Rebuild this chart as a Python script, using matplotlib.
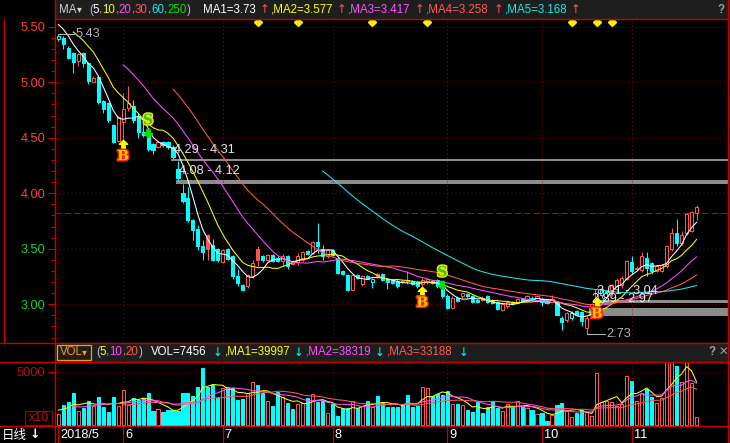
import numpy as np
import pandas as pd
import matplotlib
matplotlib.use("Agg")
import matplotlib.pyplot as plt
from matplotlib.path import Path
from matplotlib.patches import Rectangle
import matplotlib.patheffects as pe

plt.rcParams['font.family'] = ['Liberation Sans', 'DejaVu Sans', 'Noto Sans CJK SC']

# daily bars, mid May .. mid Nov 2018 (129 sessions)
opens = [5.39, 5.40, 5.31, 5.26, 5.19, 5.26, 5.17, 5.00, 5.05, 4.83,
         4.81, 4.61, 4.47, 4.64, 4.765, 4.79, 4.70, 4.55, 4.54, 4.44,
         4.42, 4.46, 4.46, 4.42, 4.22, 4.00, 3.96, 3.76, 3.68, 3.52,
         3.62, 3.53, 3.50, 3.38, 3.50, 3.43, 3.25, 3.17, 3.16, 3.25,
         3.50, 3.43, 3.40, 3.44, 3.42, 3.39, 3.43, 3.39, 3.38, 3.40,
         3.48, 3.46, 3.56, 3.50, 3.43, 3.49, 3.42, 3.30, 3.26, 3.13,
         3.26, 3.18, 3.25, 3.20, 3.27, 3.27, 3.23, 3.22, 3.21, 3.21,
         3.22, 3.21, 3.20, 3.18, 3.20, 3.21, 3.22, 3.14, 3.07, 2.97,
         3.06, 3.07, 3.09, 3.07, 3.04, 3.06, 3.07, 3.04, 3.02, 2.95,
         2.98, 3.02, 3.01, 3.05, 3.03, 3.06, 3.03, 3.05, 3.04, 3.02,
         3.02, 2.88, 2.86, 2.88, 2.94, 2.93, 2.79, 2.98, 3.05, 3.08,
         3.11, 3.13, 3.14, 3.17, 3.23, 3.38, 3.32, 3.31, 3.42, 3.37,
         3.30, 3.30, 3.34, 3.50, 3.64, 3.55, 3.64, 3.66, 3.82]
highs = [5.43, 5.42, 5.33, 5.27, 5.26, 5.27, 5.18, 5.06, 5.06, 4.84,
         4.82, 4.62, 4.70, 4.90, 4.97, 4.84, 4.72, 4.64, 4.56, 4.45,
         4.47, 4.47, 4.47, 4.43, 4.29, 4.08, 4.06, 3.77, 3.71, 3.58,
         3.63, 3.59, 3.51, 3.50, 3.51, 3.44, 3.32, 3.18, 3.27, 3.40,
         3.52, 3.44, 3.45, 3.45, 3.43, 3.45, 3.44, 3.40, 3.46, 3.48,
         3.49, 3.57, 3.73, 3.53, 3.50, 3.50, 3.43, 3.31, 3.27, 3.27,
         3.27, 3.26, 3.26, 3.24, 3.28, 3.28, 3.24, 3.23, 3.23, 3.22,
         3.30, 3.22, 3.21, 3.24, 3.24, 3.22, 3.23, 3.19, 3.09, 3.07,
         3.07, 3.11, 3.10, 3.08, 3.05, 3.07, 3.08, 3.05, 3.03, 3.02,
         3.03, 3.03, 3.06, 3.06, 3.08, 3.07, 3.08, 3.06, 3.05, 3.08,
         3.03, 2.89, 2.93, 2.94, 2.95, 2.94, 2.89, 3.01, 3.15, 3.16,
         3.13, 3.18, 3.24, 3.25, 3.40, 3.43, 3.34, 3.47, 3.47, 3.38,
         3.35, 3.36, 3.53, 3.69, 3.77, 3.66, 3.82, 3.84, 3.89]
lows = [5.37, 5.30, 5.21, 5.08, 5.15, 5.14, 4.98, 4.99, 4.80, 4.72,
        4.64, 4.45, 4.46, 4.46, 4.74, 4.63, 4.50, 4.51, 4.38, 4.35,
        4.41, 4.42, 4.40, 4.31, 4.12, 3.91, 3.74, 3.58, 3.49, 3.40,
        3.40, 3.39, 3.38, 3.37, 3.40, 3.23, 3.16, 3.12, 3.15, 3.24,
        3.34, 3.38, 3.39, 3.38, 3.38, 3.34, 3.32, 3.35, 3.35, 3.39,
        3.44, 3.45, 3.46, 3.40, 3.42, 3.43, 3.27, 3.26, 3.12, 3.12,
        3.23, 3.16, 3.23, 3.15, 3.24, 3.21, 3.14, 3.18, 3.15, 3.19,
        3.18, 3.17, 3.15, 3.14, 3.18, 3.18, 3.15, 3.06, 2.96, 2.96,
        3.02, 3.06, 3.06, 3.01, 3.01, 3.03, 3.01, 3.00, 2.95, 2.94,
        2.97, 2.99, 3.00, 3.02, 3.02, 3.03, 3.02, 2.98, 3.00, 3.02,
        2.90, 2.77, 2.84, 2.86, 2.89, 2.80, 2.73, 2.97, 3.04, 3.06,
        3.08, 3.07, 3.12, 3.15, 3.22, 3.27, 3.30, 3.29, 3.25, 3.27,
        3.29, 3.29, 3.33, 3.48, 3.52, 3.53, 3.62, 3.65, 3.76]
closes = [5.42, 5.34, 5.22, 5.185, 5.25, 5.17, 5.01, 5.04, 4.82, 4.76,
          4.66, 4.46, 4.69, 4.76, 4.81, 4.66, 4.55, 4.52, 4.40, 4.39,
          4.46, 4.43, 4.42, 4.33, 4.14, 3.93, 3.76, 3.67, 3.52, 3.47,
          3.50, 3.40, 3.40, 3.49, 3.41, 3.25, 3.19, 3.13, 3.26, 3.37,
          3.40, 3.40, 3.44, 3.39, 3.39, 3.43, 3.34, 3.36, 3.43, 3.47,
          3.45, 3.56, 3.52, 3.43, 3.49, 3.44, 3.28, 3.27, 3.13, 3.26,
          3.24, 3.25, 3.23, 3.23, 3.25, 3.22, 3.20, 3.19, 3.16, 3.20,
          3.21, 3.18, 3.16, 3.22, 3.23, 3.19, 3.16, 3.07, 2.97, 3.06,
          3.03, 3.10, 3.07, 3.02, 3.02, 3.04, 3.02, 3.01, 2.96, 3.00,
          3.02, 3.00, 3.05, 3.03, 3.07, 3.04, 3.07, 3.02, 3.01, 3.05,
          2.90, 2.84, 2.92, 2.92, 2.90, 2.85, 2.88, 3.00, 3.14, 3.14,
          3.12, 3.17, 3.22, 3.24, 3.39, 3.30, 3.33, 3.43, 3.33, 3.30,
          3.34, 3.35, 3.52, 3.64, 3.55, 3.62, 3.81, 3.83, 3.88]
# volume in units of 10 (axis shows "x10")
volumes = [1030, 1880, 2190, 3035, 1310, 1565, 2250, 1780, 2660, 1720,
           1250, 2660, 1780, 3285, 1880, 2570, 2350, 2500, 2970, 1345,
           1470, 1250, 1410, 1410, 1345, 2970, 2970, 2720, 3600, 5320,
           3600, 3750, 2500, 3440, 3535, 3440, 2350, 2410, 2970, 4000,
           3750, 2970, 2280, 1780, 3130, 2660, 2030, 1500, 1970, 2030,
           2500, 2910, 2190, 2280, 1160, 1970, 840, 1565, 1565, 2250,
           1565, 1800, 2250, 1720, 2720, 2100, 1720, 1660, 1660, 1970,
           2815, 1720, 1780, 3535, 3500, 2720, 2910, 2815, 3190, 1970,
           1970, 1880, 1410, 1250, 2190, 1095, 1660, 2250, 1565, 1310,
           1970, 1660, 2250, 1720, 1565, 1410, 1030, 1160, 400, 940,
           1880, 2100, 1345, 780, 1160, 1410, 1250, 845, 4910, 2190,
           2280, 2190, 1780, 1970, 4600, 4160, 2280, 2970, 3350, 2600,
           2100, 2500, 5940, 5910, 5535, 4065, 5940, 3910, 745]
# six sessions left of the window, only feed the moving averages
pre_closes = [5.60, 5.58, 5.55, 5.52, 5.56, 5.55]
pre_volumes = [2000, 1500, 1500, 1400, 1500, 1570]

month_start = [0, 13, 33, 55, 78, 97, 115]
month_labels = ['2018/5', '6', '7', '8', '9', '10', '11']
buy_idx = [13, 73, 108]
sell_idx = [18, 77]
flag_idx = [40, 48, 63, 74, 103, 108, 111]
# unfilled gaps: (where the band starts, low, high)
gaps = [(22.7, 4.29, 4.31), (23.7, 4.08, 4.12), (107.5, 3.01, 3.04), (106.5, 2.89, 2.97)]
last_price = 3.82

ma_windows = [5, 10, 20, 30, 60, 250]
ma_colors = ['#ffffff', '#ffff00', '#ff50ff', '#ff5a5a', '#1ee6e6', '#00e000']
ma_values = ['3.73', '3.577', '3.417', '3.258', '3.168']
vol_windows = [5, 10, 20]
vol_colors = ['#ffff00', '#ff50ff', '#ff5a5a']
vol_values = ['7456', '39997', '38319', '33188']

RED = '#ff5454'
CYAN = '#00ffff'
GRID = '#9a0000'
BORDER = '#c80000'

W, H = 730, 443
fig = plt.figure(figsize=(7.3, 4.43), dpi=100, facecolor='black')


def box(x0, y0, x1, y1):
    return [x0 / W, 1 - y1 / H, (x1 - x0) / W, (y1 - y0) / H]


ax = fig.add_axes(box(55, 19, 728, 342))
axv = fig.add_axes(box(55, 362, 728, 426))
axd = fig.add_axes(box(55, 426, 728, 443))
ov = fig.add_axes([0, 0, 1, 1])
ov.set_xlim(0, W)
ov.set_ylim(H, 0)
ov.axis('off')

xlim = (-0.66, 134.3)
ylim = (2.6595, 5.5694)
for a in (ax, axv, axd):
    a.set_facecolor('black')
    a.set_xlim(*xlim)
    for s in a.spines.values():
        s.set_visible(False)
    a.tick_params(axis='x', bottom=False, labelbottom=False)

o = np.array(opens)
h = np.array(highs)
l = np.array(lows)
c = np.array(closes)
v = np.array(volumes, dtype=float)
n = len(c)
x = np.arange(n)

# ---- price panel
ax.set_ylim(*ylim)
yt = [3.0, 3.5, 4.0, 4.5, 5.0, 5.5]
ax.set_yticks(yt)
ax.set_yticklabels([f'{t:.2f}' for t in yt])
ax.set_yticks(np.arange(2.7, 5.55, 0.1), minor=True)
ax.tick_params(axis='y', which='major', length=5, width=0.75, color=BORDER,
               labelsize=9.2, pad=2)
ax.tick_params(axis='y', which='minor', length=2.6, width=0.75, color=BORDER)
for lab, t in zip(ax.get_yticklabels(), yt):
    lab.set_color('#ff4040' if t >= last_price else '#10d040')

ax.hlines(yt, xlim[0], xlim[1], colors=GRID, linestyles=(0, (1, 3)), lw=0.72)
ax.vlines(month_start, ylim[0], ylim[1], colors=GRID, linestyles=(0, (1, 3)), lw=0.72)
ax.axhline(last_price, color='#d00000', lw=0.75, ls=(0, (6, 3)))

for x0, lo, hi in gaps:
    ax.fill_between([x0, xlim[1]], lo, hi, color='#8c8c8c', lw=0, zorder=1)

prev = np.r_[pre_closes[-1], c[:-1]]
edge = np.where(c > prev, RED, CYAN)
hollow = c > o
face = np.where(hollow, 'black', edge)
top = np.maximum(o, c)
bot = np.minimum(o, c)
ax.vlines(x, top, h, colors=edge, lw=0.75, zorder=3)
ax.vlines(x, l, bot, colors=edge, lw=0.75, zorder=3)
ax.bar(x, np.maximum(top - bot, 0.006), bottom=bot, width=0.62, color=face,
       edgecolor=edge, linewidth=0.75, zorder=3)

full_c = pd.Series(pre_closes + closes)
k = len(pre_closes)
for win, col in zip(ma_windows[:5], ma_colors[:5]):
    ma = full_c.rolling(win).mean().to_numpy()[k:]
    ax.plot(x, ma, color=col, lw=0.75, zorder=4)

ppx = (ylim[1] - ylim[0]) / 323.0
up_arrow = Path([(0, 1), (-1, 0.05), (-0.4, 0.05), (-0.4, -1), (0.4, -1), (0.4, 0.05), (1, 0.05), (0, 1)])
down_arrow = Path([(0, -1), (-1, -0.05), (-0.4, -0.05), (-0.4, 1), (0.4, 1), (0.4, -0.05), (1, -0.05), (0, -1)])
for i in buy_idx:
    ax.plot(i, l[i] - 2 * ppx, marker=up_arrow, ms=6, color='#ffff00', mec='#ffff00', zorder=6)
    ax.text(i, l[i] - 14 * ppx, 'B', color='#ffd000', fontsize=10, fontweight='bold',
            family='DejaVu Serif', ha='center', va='center', zorder=6,
            path_effects=[pe.withStroke(linewidth=2.2, foreground='#ff2000')])
for i in sell_idx:
    ax.plot(i, h[i] - 2 * ppx, marker=down_arrow, ms=6, color='#00e000', mec='#00e000', zorder=6)
    ax.text(i, h[i] + 11 * ppx, 'S', color='#30c030', fontsize=10, fontweight='bold',
            family='DejaVu Serif', ha='center', va='center', zorder=6,
            path_effects=[pe.withStroke(linewidth=2.2, foreground='#e8e800')])
ax.plot(flag_idx, [0.99] * len(flag_idx), ls='none', marker='D', ms=4.5, color='#ffee00',
        mec='#ffee00', transform=ax.get_xaxis_transform(), clip_on=False, zorder=6)

for x0, lo, hi in gaps:
    ax.annotate(f'{lo:.2f} - {hi:.2f}', (x0, hi), xytext=(3, 9), textcoords='offset pixels',
                color='#e6e6e6', fontsize=9.2, va='center', ha='left', zorder=7)

imax = int(np.argmax(h))
imin = int(np.argmin(l))
ax.plot([imax, imax + 3.2], [h[imax], h[imax]], color='#b4b4b4', lw=0.8, zorder=5)
ax.text(imax + 3.4, h[imax], f'{h[imax]:.2f}', color='#b4b4b4', fontsize=9.2, va='center', zorder=7)
ax.plot([imin, imin + 3.7], [l[imin], l[imin]], color='#b4b4b4', lw=0.8, zorder=5)
ax.text(imin + 3.9, l[imin], f'{l[imin]:.2f}', color='#b4b4b4', fontsize=9.2, va='center', zorder=7)

# ---- volume panel
vylim = (-94, 5909)
axv.set_ylim(*vylim)
axv.set_yticks([5000])
axv.set_yticklabels(['5000'])
axv.tick_params(axis='y', length=5, width=0.75, color=BORDER, labelsize=9.2,
                labelcolor='#b01010', pad=2)
axv.hlines([5000], xlim[0], xlim[1], colors=GRID, linestyles=(0, (1, 3)), lw=0.72)
axv.vlines(month_start, vylim[0], vylim[1], colors=GRID, linestyles=(0, (1, 3)), lw=0.72)
vup = c > o
axv.bar(x, v, width=0.62, color=np.where(vup, 'black', CYAN),
        edgecolor=np.where(vup, RED, CYAN), linewidth=0.75, zorder=3)
full_v = pd.Series(pre_volumes + volumes, dtype=float)
for win, col in zip(vol_windows, vol_colors):
    ma = full_v.rolling(win).mean().to_numpy()[k:]
    axv.plot(x, ma, color=col, lw=0.75, zorder=4)

# ---- date bar
axd.set_ylim(0, 1)
axd.set_yticks([])
axd.vlines(month_start, 0, 1, colors=BORDER, lw=0.9)
for i, lab in zip(month_start, month_labels):
    axd.annotate(lab, (i, 0.45), xytext=(2, 0), textcoords='offset pixels',
                 color='white', fontsize=9.2, va='center', ha='left')

# ---- headers and frame
ov.add_patch(Rectangle((55, 0), 673, 19, color='#1e1e1e', zorder=0))
ov.add_patch(Rectangle((55, 343), 673, 18.5, color='#1e1e1e', zorder=0))
ov.plot([55, 55], [0, H], color=BORDER, lw=1)
ov.plot([728, 728], [0, H], color=BORDER, lw=1)
ov.plot([4, 4], [19, 342], color=BORDER, lw=1)
ov.plot([55, 728], [19, 19], color=BORDER, lw=1)
ov.plot([0, 728], [342.5, 342.5], color=BORDER, lw=1)
ov.plot([0, 728], [361.5, 361.5], color=BORDER, lw=1)
ov.plot([0, 728], [426, 426], color=BORDER, lw=1)

r = fig.canvas.get_renderer()


def chain(x0, y0, parts, size=8.3):
    for s, col in parts:
        t = ov.text(x0, y0, s, color=col, fontsize=size, va='center', ha='left')
        x0 += t.get_window_extent(renderer=r).width
    return x0


HS = 8.3
ov.text(59, 9.5, 'MA', color='#d0d0d0', fontsize=HS, va='center')
ov.text(77, 9.5, '▾', color='#d0d0d0', fontsize=7, va='center', family='DejaVu Sans')
par = '#b4b4e6'
parts = [('(', par)]
for j, (win, col) in enumerate(zip(ma_windows, ma_colors)):
    parts.append((str(win), col))
    parts.append((',' if j < 5 else ')', par))
chain(89, 9.5, parts)
ma_x = [203, 271, 348, 426, 505]
ar_x = [260, 337, 415, 494, 571]
for j, (val, xx, axx) in enumerate(zip(ma_values, ma_x, ar_x)):
    pre = '' if j == 0 else ','
    ov.text(xx, 9.5, f'{pre}MA{j + 1}={val}', color=ma_colors[j], fontsize=HS, va='center')
    ov.text(axx, 9.5, '↑', color=RED, fontsize=HS, va='center', family='DejaVu Sans')
ov.text(717, 9.5, '?', color='#a0a0a0', fontsize=HS, va='center', fontweight='bold')

vy = 352
ov.add_patch(Rectangle((57, 344.5), 34, 15, fill=False, ec='#ff9a00', lw=0.9))
ov.text(60, vy, 'VOL', color='#ff9a00', fontsize=HS, va='center')
ov.text(82, vy, '▾', color='#ff9a00', fontsize=7, va='center', family='DejaVu Sans')
vparts = [('(', par)]
for j, (win, col) in enumerate(zip(vol_windows, vol_colors)):
    vparts.append((str(win), col))
    vparts.append((',' if j < 2 else ')', par))
chain(96, vy, vparts)
vtxt = [f'VOL={vol_values[0]}'] + [f',MA{j + 1}={vol_values[j + 1]}' for j in range(3)]
vcol = ['#ffffff'] + vol_colors
vx = [151, 225, 306, 387]
vax = [213, 294, 375, 459]
for s, col, xx, axx in zip(vtxt, vcol, vx, vax):
    ov.text(xx, vy, s, color=col, fontsize=HS, va='center')
    ov.text(axx, vy, '↓', color=CYAN, fontsize=HS, va='center', family='DejaVu Sans')
ov.text(708, vy, '?', color='#a0a0a0', fontsize=HS, va='center', fontweight='bold')
ov.text(719, vy, '✕', color='#a0a0a0', fontsize=HS, va='center', family='DejaVu Sans')

ov.add_patch(Rectangle((25, 411), 27, 13.5, fill=False, ec='#a00000', lw=0.9))
ov.text(38.5, 418, 'x10', color='#c01010', fontsize=9, va='center', ha='center')

ov.text(2, 435, '日线', color='white', fontsize=9, va='center', family=['Noto Sans CJK SC', 'DejaVu Sans'])
ov.text(30, 435, '↓', color='white', fontsize=9, va='center', fontweight='bold', family='DejaVu Sans')

fig.savefig('out.png', dpi=100, facecolor='black')
